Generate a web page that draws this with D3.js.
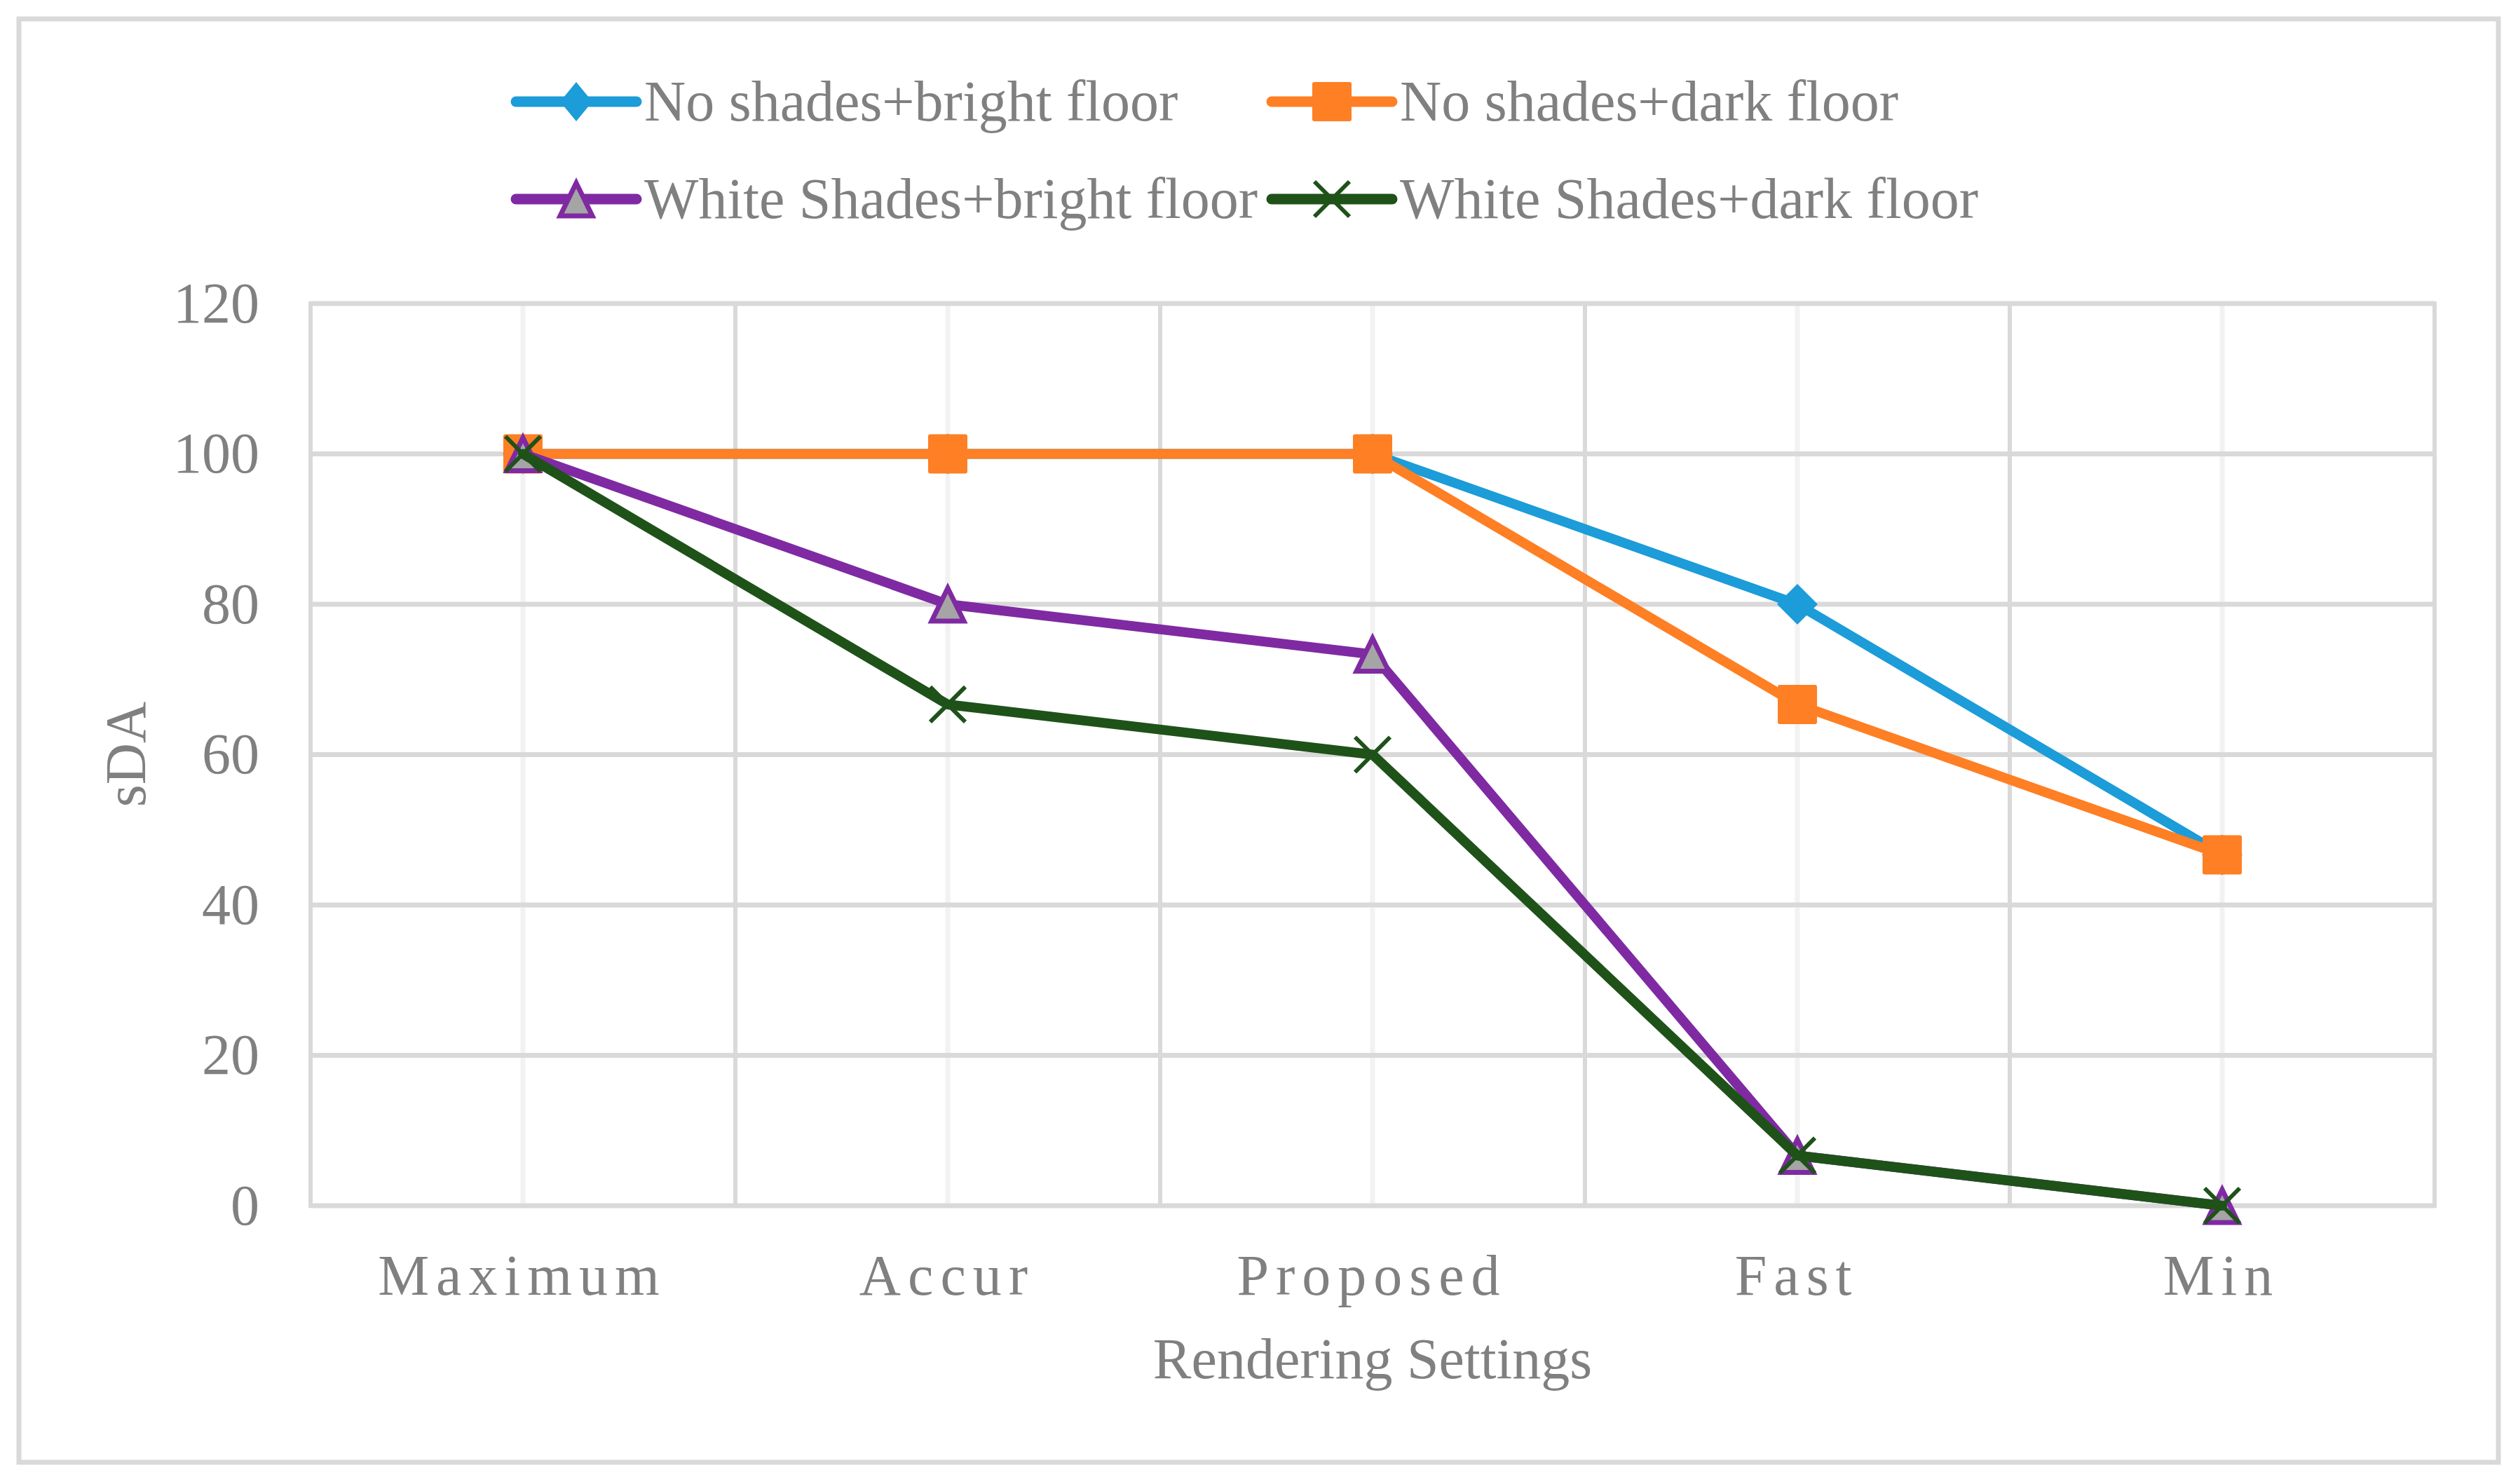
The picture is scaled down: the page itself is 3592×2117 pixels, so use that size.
<!DOCTYPE html>
<html>
<head>
<meta charset="utf-8">
<script src="https://cdn.jsdelivr.net/npm/d3@7"></script>
<style>
  body { margin: 0; background: #fff; }
  text { font-family: "Liberation Serif", "Times New Roman", serif; fill: #808080; }
</style>
</head>
<body>
<div id="chart"></div>
<script>
const categories = ["Maximum", "Accur", "Proposed", "Fast", "Min"];
const yTicks = [0, 20, 40, 60, 80, 100, 120];
const seriesNames = [
  "No shades+bright floor",
  "No shades+dark floor",
  "White Shades+bright floor",
  "White Shades+dark floor"
];
const noShadesBright = [100, 100, 100, 80, 46.67];
const noShadesDark = [100, 100, 100, 66.67, 46.67];
const whiteShadesBright = [100, 80, 73.33, 6.67, 0];
const whiteShadesDark = [100, 66.67, 60, 6.67, 0];

const width = 3592;
const height = 2117;
const margin = { top: 433, right: 119, bottom: 397, left: 443 };

const series = [
  { name: seriesNames[0], values: noShadesBright, color: "#1c9cd8", marker: "diamond" },
  { name: seriesNames[1], values: noShadesDark, color: "#fe7f24", marker: "square" },
  { name: seriesNames[2], values: whiteShadesBright, color: "#7f2aa2", marker: "triangle" },
  { name: seriesNames[3], values: whiteShadesDark, color: "#1e5219", marker: "cross" }
];

const svg = d3.select("#chart")
  .append("svg")
  .attr("width", width)
  .attr("height", height);

// outer chart frame
svg.append("rect")
  .attr("x", 27).attr("y", 27)
  .attr("width", 3537).attr("height", 2059)
  .attr("fill", "#fff")
  .attr("stroke", "#d9d9d9")
  .attr("stroke-width", 7);

const x = d3.scaleBand()
  .domain(categories)
  .range([margin.left, width - margin.right]);

const y = d3.scaleLinear()
  .domain([0, 120])
  .range([height - margin.bottom, margin.top]);

const cx = (c) => x(c) + x.bandwidth() / 2;

// minor vertical gridlines at category centres
svg.append("g")
  .selectAll("line")
  .data(categories)
  .join("line")
  .attr("x1", cx).attr("x2", cx)
  .attr("y1", y(120)).attr("y2", y(0))
  .attr("stroke", "#f2f2f2")
  .attr("stroke-width", 7);

// major vertical gridlines at category boundaries
const bounds = categories.map((c) => x(c)).concat([x.range()[1]]);
svg.append("g")
  .selectAll("line")
  .data(bounds)
  .join("line")
  .attr("x1", (d) => d).attr("x2", (d) => d)
  .attr("y1", y(120) - 3).attr("y2", y(0) + 3)
  .attr("stroke", "#d9d9d9")
  .attr("stroke-width", 6);

// horizontal gridlines
svg.append("g")
  .selectAll("line")
  .data(yTicks)
  .join("line")
  .attr("x1", margin.left).attr("x2", width - margin.right)
  .attr("y1", (d) => y(d)).attr("y2", (d) => y(d))
  .attr("stroke", "#d9d9d9")
  .attr("stroke-width", 7);

// y axis labels
const yAxis = svg.append("g")
  .attr("transform", `translate(${margin.left},0)`)
  .call(d3.axisLeft(y).tickValues(yTicks).tickSize(0).tickPadding(73));
yAxis.select(".domain").remove();
yAxis.selectAll("text")
  .attr("font-family", "Liberation Serif")
  .attr("font-size", 82)
  .attr("fill", "#808080");

// x category labels
svg.append("g")
  .selectAll("text")
  .data(categories)
  .join("text")
  .attr("x", (d) => cx(d) - 1)
  .attr("y", 1847)
  .attr("text-anchor", "middle")
  .attr("font-size", 82)
  .attr("letter-spacing", 10)
  .text((d) => d);

// axis titles
svg.append("text")
  .attr("x", (margin.left + width - margin.right) / 2)
  .attr("y", 1966)
  .attr("text-anchor", "middle")
  .attr("font-size", 82)
  .text("Rendering Settings");

svg.append("text")
  .attr("transform", `translate(207,1076) rotate(-90)`)
  .attr("text-anchor", "middle")
  .attr("font-size", 82)
  .text("sDA");

// marker drawing
const drawMarker = (g, type, color, legend) => {
  if (type === "diamond") {
    const w = legend ? 23 : 29, h = legend ? 28 : 29;
    g.append("path")
      .attr("d", `M0,${-h}L${w},0L0,${h}L${-w},0Z`)
      .attr("fill", color);
  } else if (type === "square") {
    g.append("rect")
      .attr("x", -28).attr("y", -28)
      .attr("width", 56).attr("height", 56)
      .attr("rx", 3)
      .attr("fill", color);
  } else if (type === "triangle") {
    g.append("path")
      .attr("d", "M0,-23L23,24L-23,24Z")
      .attr("fill", "#a5a5a5")
      .attr("stroke", color)
      .attr("stroke-width", 7)
      .attr("stroke-linejoin", "miter");
  } else if (type === "cross") {
    g.append("path")
      .attr("d", "M-25,-25L25,25M-25,25L25,-25")
      .attr("fill", "none")
      .attr("stroke", color)
      .attr("stroke-width", 6);
  }
};

const line = d3.line()
  .x((d, i) => cx(categories[i]))
  .y((d) => y(d));

series.forEach((s) => {
  const g = svg.append("g");
  g.append("path")
    .datum(s.values)
    .attr("d", line)
    .attr("fill", "none")
    .attr("stroke", s.color)
    .attr("stroke-width", 14)
    .attr("stroke-linejoin", "round")
    .attr("stroke-linecap", "round");
  s.values.forEach((v, i) => {
    const m = g.append("g")
      .attr("transform", `translate(${cx(categories[i])},${y(v)})`);
    drawMarker(m, s.marker, s.color, false);
  });
});

// legend, two rows by two columns
const legendCols = [736, 1814];
const legendRows = [145, 284];
series.forEach((s, i) => {
  const lx = legendCols[i % 2];
  const ly = legendRows[Math.floor(i / 2)];
  const g = svg.append("g").attr("transform", `translate(${lx},${ly})`);
  g.append("line")
    .attr("x1", 0).attr("x2", 172)
    .attr("y1", 0).attr("y2", 0)
    .attr("stroke", s.color)
    .attr("stroke-width", 15)
    .attr("stroke-linecap", "round");
  const m = g.append("g").attr("transform", "translate(86,0)");
  drawMarker(m, s.marker, s.color, true);
  g.append("text")
    .attr("x", 183)
    .attr("y", 27)
    .attr("font-size", 82)
    .text(s.name);
});
</script>
</body>
</html>
